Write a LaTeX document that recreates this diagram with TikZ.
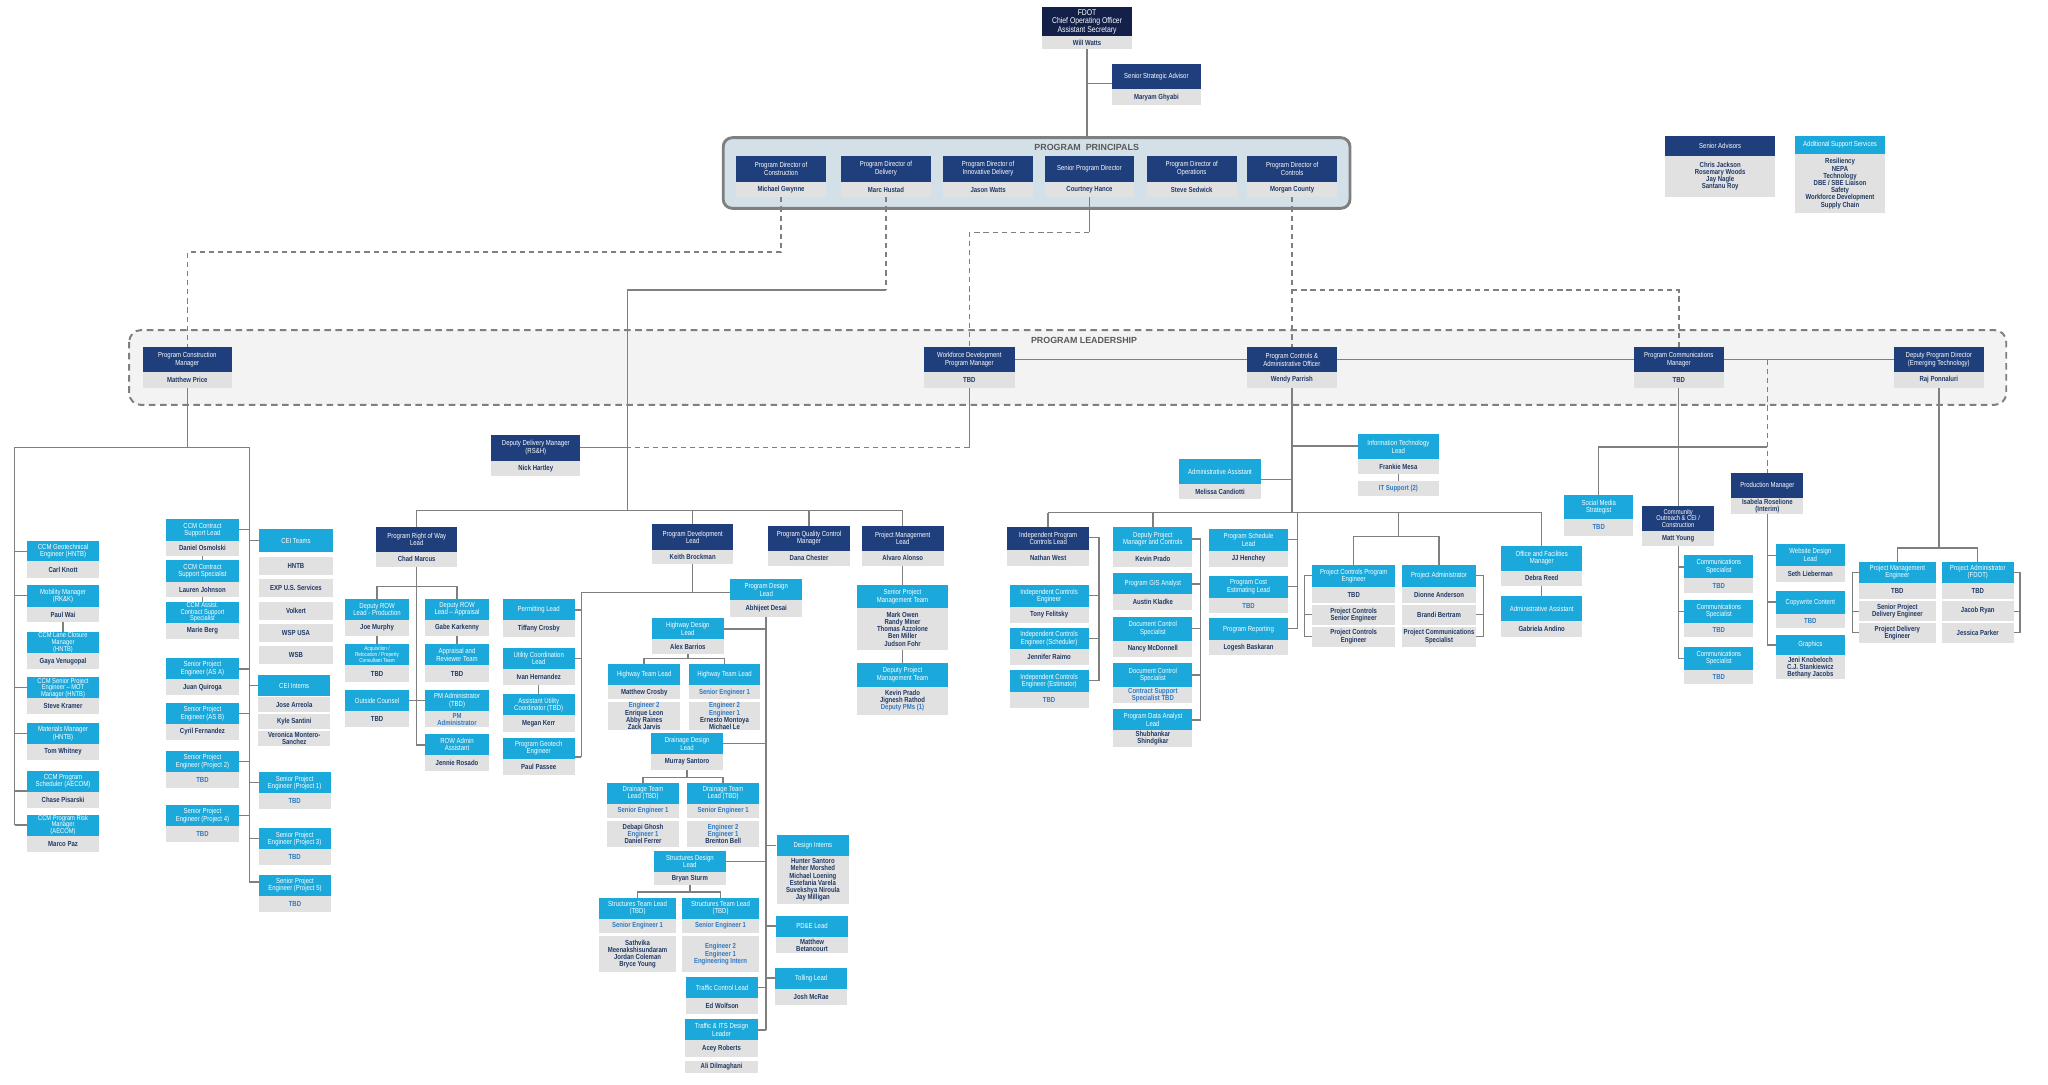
\documentclass[tikz,border=0pt]{standalone}
\usepackage{fontspec}
\setmainfont{Liberation Sans}
\newfontfamily\nf{Liberation Sans}[FakeStretch=0.82]
\definecolor{navy}{HTML}{1F3E7C}
\definecolor{fdotc}{HTML}{13204A}
\definecolor{lblue}{HTML}{1BA8DA}
\definecolor{gbox}{HTML}{E1E1E1}
\definecolor{nmc}{HTML}{1F3864}
\definecolor{bluet}{HTML}{2E78C2}
\definecolor{linec}{HTML}{7F7F7F}
\definecolor{pframe}{HTML}{D4E0E7}
\definecolor{lframe}{HTML}{F3F3F3}
\definecolor{lblc}{HTML}{595959}
\newcommand\tb[1]{{\color{bluet}#1}}
\tikzset{
 ttl/.style={draw=none, inner sep=0.4pt, outer sep=0pt, align=center, text=white, anchor=north west, font=\nf\fontsize{5.6}{5.7}\selectfont},
 nv/.style={ttl, fill=navy},
 lb/.style={ttl, fill=lblue},
 dk/.style={ttl, fill=fdotc},
 tight/.style={font=\nf\fontsize{5.4}{5.1}\selectfont},
 small3/.style={font=\nf\fontsize{4.4}{4.6}\selectfont},
 nm/.style={anchor=north west, fill=gbox, inner sep=0.4pt, outer sep=0pt, align=center, text=nmc, font=\nf\bfseries\fontsize{5.6}{5.5}\selectfont},
 ln/.style={draw=linec, line width=1.1pt},
 dln/.style={ln, dash pattern=on 4pt off 3pt},
 lbl/.style={text=lblc, font=\bfseries\fontsize{6.8}{7}\selectfont},
}
% \bx{id}{x}{y}{w}{h1}{h2}{style}{title}{name}
\newcommand\bx[9]{%
 \node[#7, minimum width=#4pt, minimum height=#5pt] (#1) at (#2,#3) {#8};
 \node[nm, minimum width=#4pt, minimum height=#6pt] (#1n) at (#2,#3+#5) {#9};
}
% \gb{id}{x}{y}{w}{h}{text}
\newcommand\gb[6]{\node[nm, minimum width=#4pt, minimum height=#5pt] (#1) at (#2,#3) {#6};}
\begin{document}
\begin{tikzpicture}[x=1pt,y=-1pt]
\fill[white] (0,0) rectangle (1568,830);
\useasboundingbox (0,0) rectangle (1568,830);
% ---------- frames ----------
\draw[draw=linec, line width=2.2pt, fill=pframe, rounded corners=7pt] (553.7,105.4) rectangle (1033.6,159.5);
\draw[draw=linec, line width=1.5pt, dash pattern=on 5pt off 3.5pt, fill=lframe, rounded corners=9pt] (98.9,252.7) rectangle (1536,310);
\node[lbl] (pplab) at (832,113) {PROGRAM\ \ PRINCIPALS};
\node[lbl] (pllab) at (830,260.8) {PROGRAM LEADERSHIP};
% ---------- connectors (top) ----------
\coordinate (ctop) at (832.3,105.4);
\draw[ln] (832.3,37.5) -- (ctop);
\draw[ln] (832.3,63.8) -- (851,63.8);
\draw[dln] (598,151) -- (598,193) -- (143.4,193) -- (143.4,265.7);
\draw[dln] (678.35,151) -- (678.35,222);
\draw[ln] (678.35,222) -- (480.5,222) -- (480.5,391);
\draw[ln] (833.95,151) -- (833.95,178);
\draw[dln] (833.95,178) -- (742.15,178) -- (742.15,265.7);
\draw[dln] (989.3,151) -- (989.3,265.7);
\draw[dln] (989.3,222) -- (1285.35,222) -- (1285.35,265.7);
\draw[ln] (776.8,275.4) -- (954.6,275.4);
\draw[ln] (1023.5,275.4) -- (1250.9,275.4);
\draw[ln] (1319.8,275.4) -- (1450.2,275.4);
\draw[dln] (1353.15,275.4) -- (1353.15,362.1);
\draw[ln] (742.15,297) -- (742.15,342.8);
\draw[dln] (742.15,342.8) -- (480.5,342.8);
\draw[ln] (480.5,342.8) -- (444.4,342.8);
% ---------- connectors (construction) ----------
\draw[ln] (143.4,297) -- (143.4,342.5);
\draw[ln] (11.2,631.6) -- (11.2,342.5) -- (190.9,342.5) -- (190.9,675.3);
\foreach \yy in {422.4,456.1,526.5,561.5,605.6,631.6} \draw[ln] (11.2,\yy) -- (20.7,\yy);
\draw[ln] (48.25,476.5) -- (48.25,484.1);
\foreach \yy in {405.5,512.2,546.4,583.2,624.5} \draw[ln] (182.7,\yy) -- (190.9,\yy);
\draw[ln] (155,425.7) -- (155,429);
\draw[ln] (155,457.3) -- (155,460.7);
\foreach \yy in {414,524.7,599.2,642.1,675.3} \draw[ln] (190.9,\yy) -- (198,\yy);
% ---------- connectors (delivery) ----------
\draw[ln] (319.05,403.2) -- (319.05,391) -- (691.15,391) -- (691.15,402.7);
\draw[ln] (530.35,401.5) -- (530.35,391);
\draw[ln] (619.4,402.7) -- (619.4,391);
\draw[ln] (319.05,433.9) -- (319.05,570.4) -- (325.2,570.4);
\draw[ln] (288.65,458.4) -- (288.65,449.2) -- (349.9,449.2) -- (349.9,458.4);
\draw[ln] (288.65,486.9) -- (288.65,493.3);
\draw[ln] (349.9,486.9) -- (349.9,493.3);
\draw[ln] (313.4,536.5) -- (325.2,536.5);
\draw[ln] (530.35,432.1) -- (530.35,453.5);
\draw[ln] (445.1,453.5) -- (558.9,453.5);
\draw[ln] (445.1,453.5) -- (445.1,579.5);
\foreach \yy in {467,504,579.5} \draw[ln] (440,\yy) -- (445.1,\yy);
\draw[ln] (412.45,524.7) -- (412.45,531.6);
\draw[ln] (586.6,472.2) -- (586.6,788.6);
\foreach \yy in {481.6,569.4,659.5} \draw[ln] (553.8,\yy) -- (586.6,\yy);
\foreach \yy in {756,788.6} \draw[ln] (580.3,\yy) -- (586.6,\yy);
\foreach \yy in {647.2,709,748.8} \draw[ln] (586.6,\yy) -- (594,\yy);
\draw[ln] (526.65,500.7) -- (526.65,504.3);
\draw[ln] (493.2,508.6) -- (493.2,504.3) -- (554.7,504.3) -- (554.7,508.6);
\draw[ln] (526.1,589.5) -- (526.1,595.1);
\draw[ln] (492.3,599.2) -- (492.3,595.1) -- (553.65,595.1) -- (553.65,599.2);
\draw[ln] (528.2,677.6) -- (528.2,683);
\draw[ln] (488.1,687.3) -- (488.1,683) -- (551.65,683) -- (551.65,687.3);
\draw[ln] (691,433.4) -- (691,447.9);
\draw[ln] (691,497.7) -- (691,507.4);
% ---------- connectors (controls) ----------
\draw[ln] (989.05,297) -- (989.05,392.5);
\draw[ln] (989.05,341.5) -- (1039.6,341.5);
\draw[ln] (965.2,367) -- (989.05,367);
\draw[ln] (1070.6,363.2) -- (1070.6,368);
\draw[ln] (802.5,392.5) -- (1180.35,392.5);
\draw[ln] (802.5,392.5) -- (802.5,403.2);
\draw[ln] (834,411.7) -- (841.4,411.7) -- (841.4,521.2);
\foreach \yy in {456.1,488.7,521.2} \draw[ln] (833.5,\yy) -- (841.4,\yy);
\draw[ln] (882.65,392.5) -- (882.65,403.5);
\draw[ln] (912.9,412.6) -- (919.3,412.6) -- (919.3,551.3);
\foreach \yy in {447.1,481.3,516.8,551.3} \draw[ln] (912.9,\yy) -- (919.3,\yy);
\draw[ln] (993.3,392.5) -- (993.3,481.3);
\foreach \yy in {413.2,449.2,481.3} \draw[ln] (986.1,\yy) -- (993.3,\yy);
\draw[ln] (1070.6,392.5) -- (1070.6,410.9);
\draw[ln] (1036.4,432.6) -- (1036.4,410.9) -- (1101.75,410.9) -- (1101.75,432.6);
\draw[ln] (1004.5,440.7) -- (998.6,440.7) -- (998.6,487.5) -- (1004.5,487.5);
\draw[ln] (998.6,470.3) -- (1004.5,470.3);
\draw[ln] (1130.3,440.7) -- (1135.7,440.7) -- (1135.7,487.5) -- (1130.3,487.5);
\draw[ln] (1130.3,470.3) -- (1135.7,470.3);
\draw[ln] (1180.35,392.5) -- (1180.35,417.8);
\draw[ln] (1180.35,448.7) -- (1180.35,456.3);
% ---------- connectors (communications) ----------
\draw[ln] (1285,297) -- (1285,504.3);
\draw[ln] (1224,379.2) -- (1224,342.3) -- (1353.15,342.3);
\foreach \yy in {434.1,468,504.3} \draw[ln] (1285,\yy) -- (1289.6,\yy);
\draw[ln] (1353.15,393.5) -- (1353.15,493.8);
\foreach \yy in {425.2,460.9,493.8} \draw[ln] (1353.15,\yy) -- (1359.5,\yy);
\draw[ln] (1484.4,297) -- (1484.4,419.6);
\draw[ln] (1452.65,430) -- (1452.65,419.6) -- (1514.2,419.6) -- (1514.2,430);
\draw[ln] (1423.3,438.2) -- (1418.5,438.2) -- (1418.5,484.4) -- (1423.3,484.4);
\draw[ln] (1418.5,468.3) -- (1423.3,468.3);
\draw[ln] (1541.8,438.2) -- (1546.6,438.2) -- (1546.6,484.4) -- (1541.8,484.4);
\draw[ln] (1541.8,468.3) -- (1546.6,468.3);
% ---------- boxes: top ----------
\bx{fdot}{798}{5.6}{68.6}{22}{10}{dk,font=\nf\fontsize{6.4}{6.4}\selectfont}{FDOT\\Chief Operating Officer\\Assistant Secretary}{Will Watts}
\bx{ssa}{851}{49.3}{68.7}{19.1}{12.2}{nv}{Senior Strategic Advisor}{Maryam Ghyabi}
\bx{pr1}{563.7}{119.4}{68.6}{19.7}{12}{nv}{Program Director of\\Construction}{Michael Gwynne}
\bx{pr2}{644}{119.4}{68.6}{19.7}{12}{nv}{Program Director of\\Delivery}{Marc Hustad}
\bx{pr3}{722.2}{119.4}{68.6}{19.7}{12}{nv}{Program Director of\\Innovative Delivery}{Jason Watts}
\bx{pr4}{799.8}{119.4}{68.6}{19.7}{12}{nv}{Senior Program Director}{Courtney Hance}
\bx{pr5}{878.1}{119.4}{68.6}{19.7}{12}{nv}{Program Director of\\Operations}{Steve Sedwick}
\bx{pr6}{955}{119.4}{68.6}{19.7}{12}{nv}{Program Director of\\Controls}{Morgan County}
\bx{sadv}{1274.8}{103.9}{84.4}{15.3}{31.4}{nv}{Senior Advisors}{Chris Jackson\\Rosemary Woods\\Jay Nagle\\Santanu Roy}
\bx{adds}{1374.3}{103.9}{68.9}{14}{45.4}{lb}{Additional Support Services}{Resiliency\\NEPA\\Technology\\DBE / SBE Liaison\\Safety\\Workforce Development\\Supply Chain}
% ---------- leadership ----------
\bx{pcm}{109.2}{265.7}{68.4}{19.4}{11.8}{nv}{Program Construction\\Manager}{Matthew Price}
\bx{wdm}{707.5}{265.7}{69.3}{19.4}{11.8}{nv}{Workforce Development\\Program Manager}{TBD}
\bx{pca}{954.6}{265.7}{68.9}{19.4}{11.8}{nv}{Program Controls \&\\Administrative Officer}{Wendy Parrish}
\bx{pcomm}{1250.9}{265.7}{68.9}{19.4}{11.8}{nv}{Program Communications\\Manager}{TBD}
\bx{dpd}{1450.2}{265.7}{68.4}{19.4}{11.8}{nv}{Deputy Program Director\\(Emerging Technology)}{Raj Ponnaluri}
\bx{ddm}{376}{333}{68.4}{19.7}{11.8}{nv}{Deputy Delivery Manager\\(RS\&H)}{Nick Hartley}
% ---------- construction ----------
\bx{a1}{20.7}{414.2}{55.1}{15.6}{12.5}{lb}{CCM Geotechnical\\Engineer (HNTB)}{Carl Knott}
\bx{a2}{20.7}{448.2}{55.1}{16.3}{12}{lb}{Mobility Manager\\(RK\&K)}{Paul Wai}
\bx{a3}{20.7}{484.1}{55.1}{16.1}{12.3}{lb,tight}{CCM Lane Closure\\Manager\\(HNTB)}{Gaya Venugopal}
\bx{a4}{20.7}{518.6}{55.1}{16.1}{12.2}{lb,tight}{CCM Senior Project\\Engineer – MOT\\Manager (HNTB)}{Steve Kramer}
\bx{a5}{20.7}{553.6}{55.1}{16}{12.3}{lb}{Materials Manager\\(HNTB)}{Tom Whitney}
\bx{a6}{20.7}{590.1}{55.1}{16}{12.3}{lb}{CCM Program\\Scheduler (AECOM)}{Chase Pisarski}
\bx{a7}{20.7}{623.7}{55.1}{16.1}{12.2}{lb,tight}{CCM Program Risk\\Manager\\(AECOM)}{Marco Paz}
\bx{b1}{127.3}{397.6}{55.4}{16.4}{11.7}{lb}{CCM Contract\\Support Lead}{Daniel Osmolski}
\bx{b2}{127.3}{429}{55.4}{16.4}{11.9}{lb}{CCM Contract\\Support Specialist}{Lauren Johnson}
\bx{b3}{127.3}{460.7}{55.4}{16}{12.3}{lb,tight}{CCM Assist.\\Contract Support\\Specialist}{Marie Berg}
\bx{b4}{127.3}{504}{55.4}{16.1}{12}{lb}{Senior Project\\Engineer (AS A)}{Juan Quiroga}
\bx{b5}{127.3}{538.2}{55.4}{16.1}{12.3}{lb}{Senior Project\\Engineer (AS B)}{Cyril Fernandez}
\bx{b6}{127.3}{575.2}{55.4}{16.1}{12.3}{lb}{Senior Project\\Engineer (Project 2)}{\tb{TBD}}
\bx{b7}{127.3}{616.3}{55.4}{16.1}{12.3}{lb}{Senior Project\\Engineer (Project 4)}{\tb{TBD}}
\node[lb, minimum width=57.2pt, minimum height=17.9pt] (c1) at (198,405) {CEI Teams};
\gb{c1a}{198}{426.5}{57.2}{13.5}{HNTB}
\gb{c1b}{198}{443.6}{57.2}{13.7}{EXP U.S. Services}
\gb{c1c}{198}{460.7}{57.2}{13.7}{Volkert}
\gb{c1d}{198}{477.8}{57.2}{13.7}{WSP USA}
\gb{c1e}{198}{494.6}{57.2}{13.8}{WSB}
\node[lb, minimum width=54.9pt, minimum height=16.1pt] (c2) at (197.8,516.8) {CEI Interns};
\gb{c2a}{197.8}{533.4}{54.9}{12}{Jose Arreola}
\gb{c2b}{197.8}{546.4}{54.9}{11.8}{Kyle Santini}
\gb{c2c}{197.8}{559.4}{54.9}{12}{Veronica Montero-\\Sanchez}
\bx{c3}{198}{591.3}{55.2}{16.1}{12.3}{lb}{Senior Project\\Engineer (Project 1)}{\tb{TBD}}
\bx{c4}{198}{634.2}{55.2}{16.1}{12.2}{lb}{Senior Project\\Engineer (Project 3)}{\tb{TBD}}
\bx{c5}{198.3}{669.7}{55.1}{16.1}{12.2}{lb}{Senior Project\\Engineer (Project 5)}{\tb{TBD}}
% ---------- right of way ----------
\bx{row}{287.9}{403.2}{62.3}{19.2}{11.5}{nv}{Program Right of Way\\Lead}{Chad Marcus}
\bx{r1}{263.9}{458.4}{49.5}{16.3}{12.2}{lb}{Deputy ROW\\Lead - Production}{Joe Murphy}
\bx{r2}{263.9}{493.3}{49.5}{16.1}{12.5}{lb,small3}{Acquisition /\\Relocation / Property\\Consultant Team}{TBD}
\bx{r3}{263.9}{528.3}{49.5}{16.1}{12.5}{lb}{Outside Counsel}{TBD}
\bx{r4}{325.2}{458.4}{49.4}{16.3}{12.2}{lb}{Deputy ROW\\Lead – Appraisal}{Gabe Karkenny}
\bx{r5}{325.2}{493.3}{49.4}{16.1}{12.5}{lb}{Appraisal and\\Reviewer Team}{TBD}
\bx{r6}{325.2}{528.3}{49.4}{16.1}{12.5}{lb}{PM Administrator\\(TBD)}{\tb{PM}\\\tb{Administrator}}
\bx{r7}{325.2}{562}{49.4}{16}{12.6}{lb}{ROW Admin\\Assistant}{Jennie Rosado}
\bx{pm1}{384.9}{458.9}{55.1}{16}{12.6}{lb}{Permitting Lead}{Tiffany Crosby}
\bx{pm2}{384.9}{495.9}{55.1}{16.1}{12.7}{lb}{Utility Coordination\\Lead}{Ivan Hernandez}
\bx{pm3}{384.9}{531.6}{55.1}{16.1}{12.5}{lb}{Assistant Utility\\Coordinator (TBD)}{Megan Kerr}
\bx{pm4}{384.9}{565}{55.1}{15.9}{12.5}{lb}{Program Geotech\\Engineer}{Paul Passee}
% ---------- program development ----------
\bx{pdl}{499.2}{401.5}{62.3}{19.6}{11}{nv}{Program Development\\Lead}{Keith Brockman}
\bx{qc}{588}{402.7}{62.8}{18.9}{11.8}{nv}{Program Quality Control\\Manager}{Dana Chester}
\bx{pml}{659.9}{402.7}{62.5}{18.9}{11.8}{nv}{Project Management\\Lead}{Alvaro Alonso}
\bx{pdes}{558.9}{443.5}{55.4}{16.1}{12.6}{lb}{Program Design\\Lead}{Abhijeet Desai}
\bx{hdl}{499.2}{473.4}{54.9}{16.1}{11.2}{lb}{Highway Design\\Lead}{Alex Barrios}
\bx{htl1}{465.8}{508.6}{54.8}{16.1}{10.7}{lb}{Highway Team Lead}{Matthew Crosby}
\gb{htl1x}{465.8}{537.5}{54.8}{21.4}{\tb{Engineer 2}\\Enrique Leon\\Abby Raines\\Zack Jarvis}
\bx{htl2}{527.3}{508.6}{54.8}{16.1}{10.7}{lb}{Highway Team Lead}{\tb{Senior Engineer 1}}
\gb{htl2x}{527.3}{537.5}{54.8}{21.4}{\tb{Engineer 2}\\\tb{Engineer 1}\\Ernesto Montoya\\Michael Le}
\bx{ddl}{498.4}{561.5}{55.4}{16}{12}{lb}{Drainage Design\\Lead}{Murray Santoro}
\bx{dtl1}{464.7}{599.2}{55.2}{16.1}{10.7}{lb}{Drainage Team\\Lead (TBD)}{\tb{Senior Engineer 1}}
\gb{dtl1x}{464.7}{628.3}{55.2}{19.9}{Debapi Ghosh\\\tb{Engineer 1}\\Daniel Ferrer}
\bx{dtl2}{526.2}{599.2}{54.9}{16.1}{10.7}{lb}{Drainage Team\\Lead (TBD)}{\tb{Senior Engineer 1}}
\gb{dtl2x}{526.2}{628.3}{54.9}{19.9}{\tb{Engineer 2}\\\tb{Engineer 1}\\Brenton Bell}
\bx{sdl}{500.5}{651.8}{55.4}{15.8}{10.2}{lb}{Structures Design\\Lead}{Bryan Sturm}
\bx{stl1}{458.6}{687.3}{59}{16.1}{10.7}{lb}{Structures Team Lead\\(TBD)}{\tb{Senior Engineer 1}}
\gb{stl1x}{458.6}{716.9}{59}{27.3}{Sathvika\\Meenakshisundaram\\Jordan Coleman\\Bryce Young}
\bx{stl2}{522.2}{687.3}{58.9}{16.1}{10.7}{lb}{Structures Team Lead\\(TBD)}{\tb{Senior Engineer 1}}
\gb{stl2x}{522.2}{716.9}{58.9}{27.3}{\tb{Engineer 2}\\\tb{Engineer 1}\\\tb{Engineering Intern}}
\bx{tcl}{525.2}{748}{55.4}{16.1}{12.5}{lb}{Traffic Control Lead}{Ed Wolfson}
\bx{its}{524.7}{780.4}{55.4}{16.1}{12.6}{lb}{Traffic \& ITS Design\\Leader}{Acey Roberts}
\gb{itsx}{524.7}{812.4}{55.4}{8.9}{Ali Dilmaghani}
\bx{di}{594.9}{639.3}{54.9}{15.8}{37}{lb}{Design Interns}{Hunter Santoro\\Meher Morshed\\Michael Loening\\Estefania Varela\\Suvekshya Niroula\\Jay Milligan}
\bx{pde}{594.1}{701.1}{55.2}{16.1}{12.7}{lb}{PD\&E Lead}{Matthew\\Betancourt}
\bx{tol}{593.4}{740.9}{55.4}{16.1}{12.5}{lb}{Tolling Lead}{Josh McRae}
\bx{spmt}{656}{447.9}{70}{17.8}{32}{lb}{Senior Project\\Management Team}{Mark Owen\\Randy Miner\\Thomas Azzolone\\Ben Miller\\Judson Fohr}
\bx{dpmt}{656}{507.4}{70}{18.3}{21.7}{lb}{Deputy Project\\Management Team}{Kevin Prado\\Jignesh Rathod\\\tb{Deputy PMs (1)}}
% ---------- controls ----------
\bx{aa1}{903}{351.7}{62.2}{19.1}{11.5}{lb}{Administrative Assistant}{Melissa Candiotti}
\bx{itl}{1039.6}{332.5}{62}{19.2}{11.5}{lb}{Information Technology\\Lead}{Frankie Mesa}
\gb{its2}{1039.6}{368}{62}{11.5}{\tb{IT Support (2)}}
\bx{ipcl}{771}{403.2}{63}{17.9}{12.3}{nv}{Independent Program\\Controls Lead}{Nathan West}
\bx{ice1}{773}{448.1}{60.5}{16.4}{12.3}{lb}{Independent Controls\\Engineer}{Tony Felitsky}
\bx{ice2}{773}{480.8}{60.5}{16.1}{12.3}{lb}{Independent Controls\\Engineer (Scheduler)}{Jennifer Raimo}
\bx{ice3}{773}{513.2}{60.5}{16.4}{12.3}{lb}{Independent Controls\\Engineer (Estimator)}{\tb{TBD}}
\bx{dpmc}{852.4}{403.5}{60.5}{18.4}{12.2}{lb}{Deputy Project\\Manager and Controls}{Kevin Prado}
\bx{gis}{852.4}{439}{60.5}{16}{12.3}{lb}{Program GIS Analyst}{Austin Kladke}
\bx{dcs1}{852.4}{472.1}{60.5}{18.4}{12.3}{lb}{Document Control\\Specialist}{Nancy McDonnell}
\bx{dcs2}{852.4}{507.6}{60.5}{18.4}{12.5}{lb}{Document Control\\Specialist}{\tb{Contract Support}\\\tb{Specialist TBD}}
\bx{pdal}{852.4}{543.1}{60.5}{15.8}{12.8}{lb}{Program Data Analyst\\Lead}{Shubhankar\\Shindgikar}
\bx{psl}{925.7}{404.8}{60.4}{16.8}{12.3}{lb}{Program Schedule\\Lead}{JJ Henchey}
\bx{pcel}{925.7}{441}{60.4}{16.6}{12}{lb}{Program Cost\\Estimating Lead}{\tb{TBD}}
\bx{prep}{925.7}{473.4}{60.4}{16.6}{11.7}{lb}{Program Reporting}{Logesh Baskaran}
\bx{pcpe}{1004.5}{432.6}{63.8}{16.6}{12.7}{lb}{Project Controls Program\\Engineer}{TBD}
\gb{pcpe2}{1004.5}{463.2}{63.8}{15.3}{Project Controls\\Senior Engineer}
\gb{pcpe3}{1004.5}{479.8}{63.8}{15.3}{Project Controls\\Engineer}
\bx{padm}{1073.2}{432.6}{57.1}{16.6}{12.7}{lb}{Project Administrator}{Dionne Anderson}
\gb{padm2}{1073.2}{463.2}{57.1}{15.3}{Brandi Bertram}
\gb{padm3}{1073.2}{479.8}{57.1}{15.3}{Project Communications\\Specialist}
\bx{ofm}{1149.2}{417.8}{62.3}{19.1}{11.8}{lb}{Office and Facilities\\Manager}{Debra Reed}
\bx{aa2}{1149.2}{456.3}{62.3}{19.4}{11.8}{lb}{Administrative Assistant}{Gabriela Andino}
% ---------- communications ----------
\bx{sms}{1197.7}{379.2}{52.6}{17.9}{13}{lb}{Social Media\\Strategist}{\tb{TBD}}
\bx{co}{1257.4}{387.4}{54.9}{18.9}{12}{nv,tight}{Community\\Outreach \& CEI /\\Construction}{Matt Young}
\bx{cs1}{1289.6}{424.9}{52.8}{17.9}{11}{lb}{Communications\\Specialist}{\tb{TBD}}
\bx{cs2}{1289.6}{459.1}{52.8}{17.6}{11}{lb}{Communications\\Specialist}{\tb{TBD}}
\bx{cs3}{1289.6}{495.1}{52.8}{17.9}{11}{lb}{Communications\\Specialist}{\tb{TBD}}
\bx{prm}{1325.6}{362.1}{55.1}{19.2}{12.2}{nv}{Production Manager}{Isabela Roselione\\(Interim)}
\bx{wdl}{1359.5}{416.8}{53.1}{16.3}{12.3}{lb}{Website Design\\Lead}{Seth Lieberman}
\bx{cc}{1359.5}{452.2}{53.1}{17.6}{10.8}{lb}{Copywrite Content}{\tb{TBD}}
\bx{gr}{1359.5}{485.9}{53.1}{15.8}{18.4}{lb}{Graphics}{Jeni Knobeloch\\C.J. Stankiewicz\\Bethany Jacobs}
\bx{pme}{1423.3}{430}{58.7}{16.1}{12.3}{lb}{Project Management\\Engineer}{TBD}
\gb{pme2}{1423.3}{460.2}{58.7}{15}{Senior Project\\Delivery Engineer}
\gb{pme3}{1423.3}{477}{58.7}{15}{Project Delivery\\Engineer}
\bx{paf}{1486.6}{430}{55.2}{16.1}{12.3}{lb}{Project Administrator\\(FDOT)}{TBD}
\gb{paf2}{1486.6}{460.2}{55.2}{15}{Jacob Ryan}
\gb{paf3}{1486.6}{477}{55.2}{15}{Jessica Parker}
\end{tikzpicture}
\end{document}
